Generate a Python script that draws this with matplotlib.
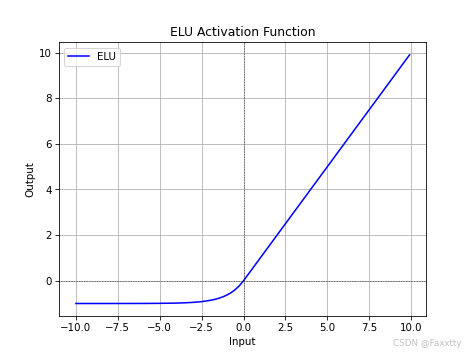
import matplotlib.pyplot as plt

# values
x_in = [-10.0, -8.0, -6.0, -5.0, -4.0, -3.5, -3.0, -2.5, -2.0, -1.75, -1.5, -1.25,
        -1.0, -0.75, -0.5, -0.25, 0.0, 2.5, 5.0, 7.5, 9.9]
y_out = [-1.0, -1.0, -0.998, -0.993, -0.982, -0.970, -0.950, -0.918, -0.865, -0.826,
         -0.777, -0.713, -0.632, -0.528, -0.393, -0.221, 0.0, 2.5, 5.0, 7.5, 9.9]

fig = plt.figure(figsize=(6.4, 4.8), dpi=74)
ax = fig.add_subplot(111)

ax.plot(x_in, y_out, color='blue', label='ELU')
ax.axhline(0, color='black', linewidth=0.6, linestyle=':')
ax.axvline(0, color='black', linewidth=0.6, linestyle=':')

ax.set_title('ELU Activation Function')
ax.set_xlabel('Input')
ax.set_ylabel('Output')
ax.grid(True)
ax.legend(loc='upper left')

fig.text(0.975, 0.02, 'CSDN @Faxxtty', ha='right', va='bottom',
         fontsize=8.5, color='#c0c0c0')

fig.savefig('out.png', dpi=74)
